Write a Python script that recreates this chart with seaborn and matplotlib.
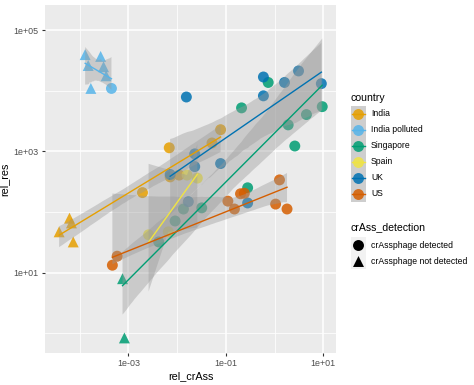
import numpy as np
import pandas as pd
import seaborn as sns
import matplotlib.pyplot as plt
from matplotlib.patches import Rectangle
from matplotlib.ticker import FixedLocator, FuncFormatter

# values (rel_crAss, rel_res on log10 axes)
countries = ["India", "India polluted", "Singapore", "Spain", "UK", "US"]
palette = ["#E69F00", "#56B4E9", "#009E73", "#F0E442", "#0072B2", "#D55E00"]
shape_levels = ["crAssphage detected", "crAssphage not detected"]

country = (["India"] * 10 + ["India polluted"] * 7 + ["Singapore"] * 13
           + ["Spain"] * 4 + ["UK"] * 12 + ["US"] * 9)
rel_crAss = [
    # India
    6.2e-05, 6.8e-05, 3.8e-05, 7.4e-05, 1.95e-03, 7.2e-03, 1.1e-02, 6.9e-03, 5.2e-02, 7.8e-02,
    # India polluted
    1.3e-04, 2.7e-04, 1.5e-04, 3.1e-04, 3.5e-04, 1.7e-04, 4.5e-04,
    # Singapore
    0.74, 0.21, 9.5, 4.5, 1.9, 2.6, 0.28, 1.35e-02, 3.2e-02, 9.1e-03, 7.6e-04, 8.3e-04, 4.2e-03,
    # Spain
    2.6e-03, 6.6e-03, 1.6e-02, 2.6e-02,
    # UK
    1.55e-02, 0.59, 1.6, 3.1, 9.1, 0.59, 2.3e-02, 2.3e-02, 7.8e-02, 7.2e-03, 1.7e-02, 0.28,
    # US
    1.26, 0.11, 0.2, 0.24, 0.15, 1.05, 1.8, 5.9e-04, 4.7e-04,
]
rel_res = [
    # India
    79, 66, 47, 32, 209, 380, 407, 1150, 1380, 2290,
    # India polluted
    39800, 37200, 26300, 25100, 17800, 11000, 11000,
    # Singapore
    13800, 5250, 5500, 4070, 2750, 1230, 251, 112, 117, 71, 7.9, 0.83, 32,
    # Spain
    42, 47, 407, 363,
    # UK
    7940, 17000, 13800, 21400, 13200, 8300, 912, 562, 631, 417, 148, 141,
    # US
    339, 151, 200, 204, 112, 135, 112, 18.6, 13.2,
]
crAss_detection = (
    ["crAssphage not detected"] * 4 + ["crAssphage detected"] * 6
    + ["crAssphage not detected"] * 6 + ["crAssphage detected"]
    + ["crAssphage detected"] * 10 + ["crAssphage not detected"] * 2 + ["crAssphage detected"]
    + ["crAssphage detected"] * 4
    + ["crAssphage detected"] * 12
    + ["crAssphage detected"] * 9
)

df = pd.DataFrame({"country": country, "rel_crAss": rel_crAss, "rel_res": rel_res,
                   "crAss_detection": crAss_detection})
df["lx"] = np.log10(df["rel_crAss"])
df["ly"] = np.log10(df["rel_res"])

plt.rcParams["font.family"] = ["Liberation Sans", "DejaVu Sans"]

fig = plt.figure(figsize=(4.74, 3.85), dpi=100)
ax = fig.add_axes([45 / 474, 1 - 353 / 385, 291 / 474, 348 / 385])
ax.set_facecolor("#EBEBEB")

# points first, smoothers drawn on top (as in the ggplot layer order)
sns.scatterplot(data=df, x="lx", y="ly", hue="country", hue_order=countries,
                palette=palette, style="crAss_detection", style_order=shape_levels,
                markers={"crAssphage detected": "o", "crAssphage not detected": "^"},
                s=62, alpha=0.85, linewidth=0, legend=False, ax=ax, zorder=3)

for name, col in zip(countries, palette):
    sub = df[df["country"] == name]
    n_before = len(ax.collections)
    sns.regplot(data=sub, x="lx", y="ly", scatter=False, ci=95, color=col, seed=3,
                line_kws={"lw": 1.0, "zorder": 5}, ax=ax)
    for coll in ax.collections[n_before:]:
        coll.set_alpha(0.4)
        coll.set_facecolor("#999999")
        coll.set_edgecolor("none")
        coll.set_zorder(4)

ax.set_xlim(-4.71, 1.26)
ax.set_ylim(-0.33, 5.42)

def sci(v, pos):
    e = int(round(v))
    return f"1e{'+' if e >= 0 else '-'}{abs(e):02d}"

ax.xaxis.set_major_locator(FixedLocator([-3, -1, 1]))
ax.xaxis.set_minor_locator(FixedLocator([-4, -2, 0]))
ax.yaxis.set_major_locator(FixedLocator([1, 3, 5]))
ax.yaxis.set_minor_locator(FixedLocator([0, 2, 4]))
ax.xaxis.set_major_formatter(FuncFormatter(sci))
ax.yaxis.set_major_formatter(FuncFormatter(sci))
ax.grid(which="major", color="white", lw=1.1, zorder=0)
ax.grid(which="minor", color="white", lw=0.55, zorder=0)
ax.set_axisbelow(True)
ax.tick_params(which="major", length=2.5, width=0.8, color="#333333",
               labelsize=6.4, labelcolor="#4D4D4D", pad=2)
ax.tick_params(which="minor", length=0)
for sp in ax.spines.values():
    sp.set_visible(False)
ax.set_xlabel("rel_crAss", fontsize=7.8, labelpad=2)
ax.set_ylabel("rel_res", fontsize=7.8, labelpad=3)

# legend drawn by hand in pixel coordinates, ggplot style
lax = fig.add_axes([0, 0, 1, 1])
lax.set_xlim(0, 474)
lax.set_ylim(385, 0)
lax.axis("off")

lax.text(351, 98, "country", fontsize=7.6, va="center", ha="left")
key_y = [114, 130, 146, 162, 178, 194]
for yk, name, col in zip(key_y, countries, palette):
    lax.add_patch(Rectangle((351, yk - 8), 15, 16, facecolor="#F2F2F2", edgecolor="none"))
    lax.add_patch(Rectangle((351, yk - 8), 15, 16, facecolor="#999999", alpha=0.4, edgecolor="none"))
    lax.plot([352, 365], [yk, yk], color=col, lw=1.0)
    lax.scatter([358.5], [yk], s=62, color=col, alpha=0.85, linewidth=0)
    lax.text(371, yk, name, fontsize=6.2, va="center", ha="left")

lax.text(351, 227, "crAss_detection", fontsize=7.6, va="center", ha="left")
for yk, lab, mk in zip([245, 261], shape_levels, ["o", "^"]):
    lax.add_patch(Rectangle((351, yk - 8), 15, 16, facecolor="#F2F2F2", edgecolor="none"))
    lax.scatter([358.5], [yk], s=62, color="black", marker=mk, linewidth=0)
    lax.text(371, yk, lab, fontsize=6.2, va="center", ha="left")

fig.savefig("out.png", dpi=100)
